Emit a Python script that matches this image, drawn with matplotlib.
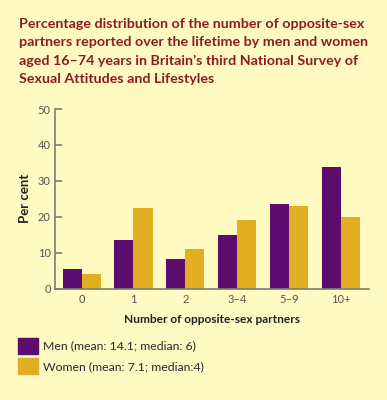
import matplotlib
matplotlib.use("Agg")
import matplotlib.pyplot as plt
from matplotlib.patches import Rectangle
import numpy as np

categories = ["0", "1", "2", "3\u20134", "5\u20139", "10+"]
men = [5.4, 13.6, 8.3, 14.9, 23.6, 33.9]
women = [4.0, 22.4, 11.1, 19.0, 23.0, 19.9]
yticks = [0, 10, 20, 30, 40, 50]

title = ("Percentage distribution of the number of opposite-sex\n"
         "partners reported over the lifetime by men and women\n"
         "aged 16\u201374 years in Britain\u2019s third National Survey of\n"
         "Sexual Attitudes and Lifestyles")
men_label = "Men (mean: 14.1; median: 6)"
women_label = "Women (mean: 7.1; median:4)"

plt.rcParams['font.family'] = ['Lato', 'DejaVu Sans']

bg = "#FFF9C2"
c_men = "#5C0C6C"
c_women = "#E0AE20"
spine_c = "#7d7d70"
title_c = "#8E1B24"

fig = plt.figure(figsize=(3.87, 4.0), dpi=100, facecolor=bg)
W, H = 387, 400
ax = fig.add_axes([55 / W, 1 - 288.7 / H, (368.7 - 55) / W, (288.7 - 109) / H])
ax.set_facecolor(bg)

x = np.arange(len(categories))
bw = 0.367
ax.bar(x - bw / 2, men, bw, color=c_men)
ax.bar(x + bw / 2, women, bw, color=c_women)

ax.set_xlim(-0.515, 5.54)
ax.set_ylim(0, 50)
ax.set_yticks(yticks)
ax.set_xticks(x)
ax.set_xticklabels(categories)
for s in ["top", "right"]:
    ax.spines[s].set_visible(False)
for s in ["left", "bottom"]:
    ax.spines[s].set_color(spine_c)
    ax.spines[s].set_linewidth(1.2)
ax.tick_params(axis="y", direction="in", length=5, width=1.2, color=spine_c,
               labelsize=8, labelcolor="#555550", pad=3)
ax.tick_params(axis="x", length=0, labelsize=8, labelcolor="#555550", pad=4)

ax.set_ylabel("Per cent", fontsize=9.5, fontweight="bold", color="#222222", labelpad=5)
ax.set_xlabel("Number of opposite-sex partners", fontsize=8.6, fontweight="bold",
              color="#222222", labelpad=6)

fig.text(19 / W, 1 - 18 / H, title, ha="left", va="top", fontsize=10.3,
         fontweight="bold", color=title_c, linespacing=1.62)

# legend
fig.patches.append(Rectangle((18 / W, 1 - 354 / H), 20 / W, 16 / H,
                             transform=fig.transFigure, color=c_men))
fig.patches.append(Rectangle((18 / W, 1 - 374 / H), 20 / W, 16 / H,
                             transform=fig.transFigure, color=c_women))
fig.text(43 / W, 1 - 346 / H, men_label, ha="left", va="center", fontsize=8.8,
         color="#2a2a2a")
fig.text(43 / W, 1 - 367 / H, women_label, ha="left", va="center", fontsize=8.8,
         color="#2a2a2a")

fig.savefig("out.png", dpi=100, facecolor=bg)
